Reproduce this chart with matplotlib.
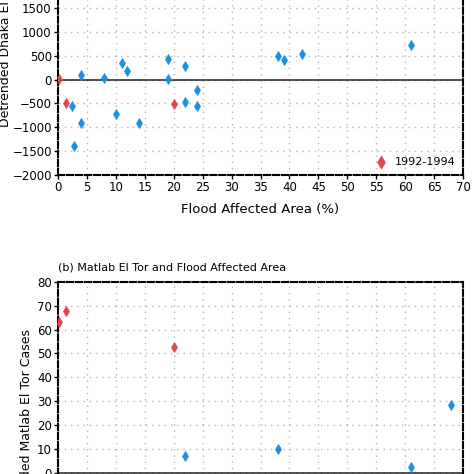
import numpy as np
import matplotlib
matplotlib.use('Agg')
import matplotlib.pyplot as plt

# (a) Dhaka El Tor vs flood affected area
dhaka_flood = [4, 2.4, 4, 2.8, 8, 10, 11, 12, 14, 19, 19, 22, 22, 24, 24, 38, 39, 42.2, 61]
dhaka_cases = [100, -545, -905, -1400, 30, -710, 355, 190, -900, 430, 15, 280, -460, -225, -545, 495, 405, 535, 725]
dhaka_flood_9294 = [0.1, 1.4, 20]
dhaka_cases_9294 = [10, -495, -515]

# (b) Matlab El Tor vs flood affected area
matlab_flood = [22, 38, 61, 68]
matlab_cases = [6.9, 10, 2.5, 28.5]
matlab_flood_9294 = [0.2, 1.4, 20]
matlab_cases_9294 = [63.3, 67.7, 52.8]

blue = '#1a90e0'
red = '#e0464c'

plt.rcParams['font.family'] = 'DejaVu Sans'

fig = plt.figure(figsize=(4.74, 4.74), dpi=100)
ax1 = fig.add_axes([0.1224, 0.6308, 0.8544, 0.6034])
ax2 = fig.add_axes([0.1224, -0.1983, 0.8544, 0.6034])


def style(ax):
    for s in ax.spines.values():
        s.set_linestyle((0, (3, 1.3)))
        s.set_linewidth(1.5)
        s.set_color('black')
    ax.grid(True, linestyle=(0, (1, 3.5)), color='#b4b4b4', linewidth=1.0)
    ax.set_axisbelow(True)
    ax.tick_params(direction='out', length=3, width=1, labelsize=8.5, pad=1.5)
    ax.axhline(0, color='#222222', lw=1.1, zorder=1)


ax1.scatter(dhaka_flood, dhaka_cases, marker='d', s=26, color=blue, linewidths=0.5, zorder=3)
ax1.scatter(dhaka_flood_9294, dhaka_cases_9294, marker='d', s=26, color=red, linewidths=0.5,
            zorder=3, label='1992-1994')
ax1.set_xlim(0, 70)
ax1.set_ylim(-2000, 4000)
ax1.set_xticks(np.arange(0, 71, 5))
ax1.set_yticks(np.arange(-2000, 1501, 500))
style(ax1)
ax1.set_xlabel('Flood Affected Area (%)', fontsize=9.5, labelpad=6)
ax1.set_ylabel('Detrended Dhaka El Tor Cases', fontsize=9, labelpad=0)
ax1.legend(loc='lower right', frameon=False, fontsize=8, handletextpad=0.2,
           borderaxespad=0.3, markerscale=1.3)

ax2.scatter(matlab_flood, matlab_cases, marker='d', s=26, color=blue, linewidths=0.5, zorder=3)
ax2.scatter(matlab_flood_9294, matlab_cases_9294, marker='d', s=26, color=red, linewidths=0.5,
            zorder=3)
ax2.set_xlim(0, 70)
ax2.set_ylim(-40, 80)
ax2.set_xticks(np.arange(0, 71, 5))
ax2.set_yticks(np.arange(0, 81, 10))
ax2.set_yticks(np.arange(-40, 1, 10), minor=True)
style(ax2)
ax2.tick_params(which='minor', length=0)
ax2.grid(True, which='minor', linestyle=(0, (1, 3.5)), color='#b4b4b4', linewidth=1.0)
ax2.set_xticklabels([])
ax2.set_ylabel('Detrended Matlab El Tor Cases', fontsize=9, labelpad=3)
ax2.set_title('(b) Matlab El Tor and Flood Affected Area', loc='left', fontsize=8, pad=8)

fig.savefig('out.png', dpi=100)
